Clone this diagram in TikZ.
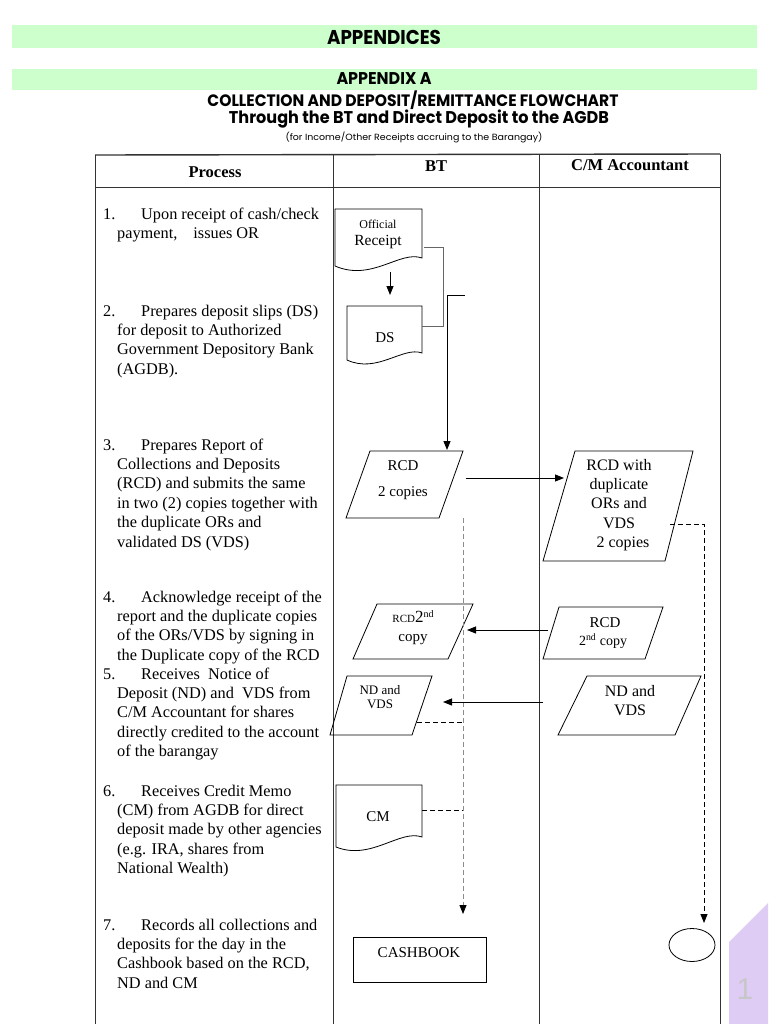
\documentclass[tikz,border=0pt]{standalone}
\usepackage{fontspec}
\setmainfont{Liberation Serif}
\newfontfamily\hdfont{Poppins}
\newfontfamily\sansf{Liberation Sans}
\usetikzlibrary{arrows.meta,shapes.geometric}
\definecolor{barg}{RGB}{204,255,204}
\definecolor{pur}{RGB}{222,204,245}
\tikzset{
  tbl/.style={draw=black!80, line width=0.9pt},
  shp/.style={draw=black, line width=0.8pt},
  arr/.style={-{Triangle[length=9pt,width=7pt]}, line width=0.9pt},
  dsh/.style={dash pattern=on 5pt off 3pt, line width=0.9pt},
  gdsh/.style={dash pattern=on 5pt off 3pt, draw=black!45, line width=0.9pt},
  thinl/.style={draw=black!60, line width=0.7pt},
  proc/.style={anchor=north west, inner sep=0pt, align=left, font=\fontsize{16.3}{19.4}\selectfont},
  lbl/.style={inner sep=0pt, align=center},
  hd/.style={inner sep=0pt, font=\bfseries\fontsize{16.5}{19}\selectfont},
  ttl/.style={inner sep=0pt},
}
\begin{document}
\begin{tikzpicture}[x=1pt,y=-1pt]
\fill[white] (0,0) rectangle (768,1024);
\useasboundingbox (0,0) rectangle (768,1024);

% header bars
\fill[barg] (12,25) rectangle (757,48);
\fill[barg] (12,69) rectangle (757,90);
\node[ttl] (h1) at (384,37) {\hdfont\bfseries\fontsize{20}{22}\selectfont\resizebox{114pt}{\height}{APPENDICES}};
\node[ttl] (h2) at (384,79) {\hdfont\bfseries\fontsize{17}{19}\selectfont\resizebox{95pt}{\height}{APPENDIX A}};
\node[ttl] (h3) at (413,100) {\hdfont\bfseries\fontsize{16.5}{19}\selectfont\resizebox{411pt}{\height}{COLLECTION AND DEPOSIT/REMITTANCE FLOWCHART}};
\node[ttl] (h4) at (419,119) {\hdfont\bfseries\fontsize{17}{19}\selectfont\resizebox{380pt}{\height}{Through the BT and Direct Deposit to the AGDB}};
\node[ttl] (h5) at (414,137) {\hdfont\fontsize{9}{11}\selectfont\resizebox{257pt}{\height}{(for Income/Other Receipts accruing to the Barangay)}};

% table
\draw[tbl, line width=1.4pt] (95,155) -- (720,154);
\draw[tbl] (95,187) -- (720,187);
\draw[tbl] (95,155) -- (95,1024);
\draw[tbl] (333,155) -- (333,1024);
\draw[tbl] (539,155) -- (539,1024);
\draw[tbl] (720,154) -- (720,1024);
\node[hd] (cp) at (215,172) {Process};
\node[hd] (cb1) at (436,166) {BT};
\node[hd] (cc) at (630,165) {C/M Accountant};

% process texts
\node[proc] (p1) at (103,205.4) {\strut\makebox[38pt][l]{1.}Upon receipt of cash/check\\\hspace*{14pt}payment,\hspace{16pt}issues OR};
\node[proc] (p2) at (103,302.4) {\strut\makebox[38pt][l]{2.}Prepares deposit slips (DS)\\\hspace*{14pt}for deposit to Authorized\\\hspace*{14pt}Government Depository Bank\\\hspace*{14pt}(AGDB).};
\node[proc] (p3) at (103,436.4) {\strut\makebox[38pt][l]{3.}Prepares Report of\\\hspace*{14pt}Collections and Deposits\\\hspace*{14pt}(RCD) and submits the same\\\hspace*{14pt}in two (2) copies together with\\\hspace*{14pt}the duplicate ORs and\\\hspace*{14pt}validated DS (VDS)};
\node[proc] (p4) at (103,588.4) {\strut\makebox[38pt][l]{4.}Acknowledge receipt of the\\\hspace*{14pt}report and the duplicate copies\\\hspace*{14pt}of the ORs/VDS by signing in\\\hspace*{14pt}the Duplicate copy of the RCD};
\node[proc] (p5) at (103,665.4) {\strut\makebox[38pt][l]{5.}Receives\ \ Notice of\\\hspace*{14pt}Deposit (ND) and\ \ VDS from\\\hspace*{14pt}C/M Accountant for shares\\\hspace*{14pt}directly credited to the account\\\hspace*{14pt}of the barangay};
\node[proc] (p6) at (103,782.4) {\strut\makebox[38pt][l]{6.}Receives Credit Memo\\\hspace*{14pt}(CM) from AGDB for direct\\\hspace*{14pt}deposit made by other agencies\\\hspace*{14pt}(e.g. IRA, shares from\\\hspace*{14pt}National Wealth)};
\node[proc] (p7) at (103,916.4) {\strut\makebox[38pt][l]{7.}Records all collections and\\\hspace*{14pt}deposits for the day in the\\\hspace*{14pt}Cashbook based on the RCD,\\\hspace*{14pt}ND and CM};

% document shapes
\draw[shp] (335,209) -- (422,209) -- (422,258) .. controls (400,250) and (372,282) .. (335,266) -- cycle;
\node[lbl, font=\fontsize{12}{14}\selectfont] (or1) at (378,224) {Official};
\node[lbl, font=\fontsize{15.5}{18}\selectfont] (or2) at (378,242) {Receipt};
\draw[shp] (347,306) -- (422,306) -- (422,353) .. controls (403,346) and (377,374) .. (347,360) -- cycle;
\node[lbl, font=\fontsize{15}{18}\selectfont] (ds) at (385,338) {DS};
\draw[shp] (336,785) -- (422,785) -- (422,837) .. controls (400,829) and (371,861) .. (336,847) -- cycle;
\node[lbl, font=\fontsize{15}{18}\selectfont] (cm) at (378,817) {CM};

% parallelograms
\draw[shp] (370,451) -- (463,451) -- (439,518) -- (346,518) -- cycle;
\node[lbl, font=\fontsize{15}{18}\selectfont] (rcd) at (403,480) {RCD\\[8pt]2 copies};
\draw[shp] (575,451) -- (693,451) -- (665,561) -- (543,561) -- cycle;
\node[lbl, font=\fontsize{16}{19.2}\selectfont] (rcdw) at (619,505) {RCD with\\duplicate\\ORs and\\VDS\\\ \ 2 copies};
\draw[shp] (377,604) -- (473,604) -- (448,659) -- (353,659) -- cycle;
\node[lbl] (r2a) at (413,617) {{\fontsize{11}{13}\selectfont RCD}{\fontsize{17}{19}\selectfont 2}{\fontsize{10}{12}\selectfont\raisebox{5pt}{nd}}};
\node[lbl, font=\fontsize{15}{18}\selectfont] (r2b) at (413,640) {copy};
\draw[shp] (559,607) -- (663,607) -- (645,659) -- (543,659) -- cycle;
\node[lbl, font=\fontsize{15}{18}\selectfont] (r2c) at (605,623) {RCD};
\node[lbl, font=\fontsize{14}{17}\selectfont] (r2d) at (603,641) {2\textsuperscript{nd} copy};
\draw[shp] (347,676) -- (432,676) -- (412,735) -- (330,735) -- cycle;
\node[lbl, font=\fontsize{13}{14}\selectfont] (nd1) at (380,697) {ND and\\VDS};
\draw[shp] (587,676) -- (701,676) -- (675,735) -- (558,735) -- cycle;
\node[lbl, font=\fontsize{16}{19}\selectfont] (nd2) at (630,701) {ND and\\VDS};

% cashbook and end
\node[shp, minimum width=133pt, minimum height=45pt, inner sep=0pt] (cbk) at (419.5,959.5) {};
\node[lbl, font=\fontsize{15}{18}\selectfont] (cbt) at (419,953) {CASHBOOK};
\node[shp, ellipse, minimum width=46pt, minimum height=33pt, inner sep=0pt] (endc) at (692,945) {};

% connector points
\coordinate (orB) at (390,272);
\coordinate (dsT) at (390,295);
\coordinate (orR) at (424,247);
\coordinate (brk) at (443,247);
\coordinate (dsR) at (422,326);
\coordinate (jn) at (465,295);
\coordinate (rcdT) at (447,450);
\coordinate (rcdR) at (466,478);
\coordinate (rcdwL) at (564,478);
\coordinate (rcdwR) at (670,524);
\coordinate (endT) at (704,923);
\coordinate (rcdB) at (463,518);
\coordinate (cbkT) at (463,914);
\coordinate (r2L) at (548,630);
\coordinate (r2R) at (467,630);
\coordinate (ndL) at (543,702);
\coordinate (ndR) at (443,702);
\coordinate (ndd) at (417,722);
\coordinate (ndv) at (463,722);
\coordinate (cmR) at (422,810);
\coordinate (cmv) at (463,810);

% connectors
\draw[arr] (orB) -- (dsT);
\draw[thinl] (orR) -- (brk) |- (dsR);
\draw[arr] (jn) -- (447,295) -- (rcdT);
\draw[arr] (rcdR) -- (rcdwL);
\draw[dsh, -{Triangle[length=9pt,width=7pt]}] (rcdwR) -| (endT);
\draw[gdsh, -{Triangle[length=9pt,width=7pt,color=black]}] (rcdB) -- (cbkT);
\draw[arr] (r2L) -- (r2R);
\draw[arr] (ndL) -- (ndR);
\draw[dsh] (ndd) -- (ndv);
\draw[dsh] (cmR) -- (cmv);

% page corner
\fill[pur] (729,1024) -- (729,942) -- (768,903) -- (768,1024) -- cycle;
\node[text=black!22, font=\sansf\fontsize{30}{32}\selectfont, inner sep=0pt] (pg) at (745,989) {1};
\end{tikzpicture}
\end{document}
